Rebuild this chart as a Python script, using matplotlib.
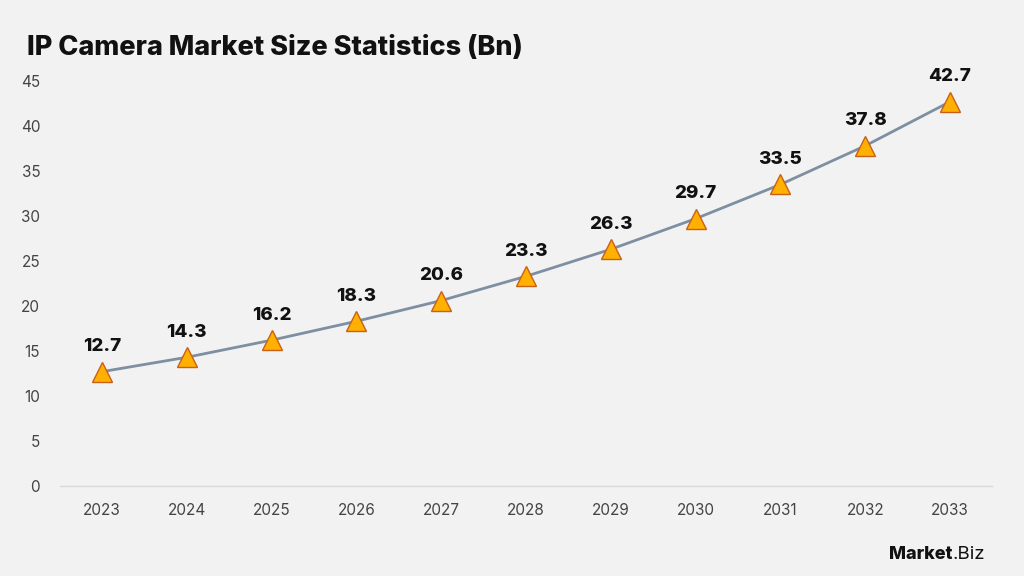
import matplotlib.pyplot as plt

years = ['2023', '2024', '2025', '2026', '2027', '2028', '2029', '2030', '2031', '2032', '2033']
values = [12.7, 14.3, 16.2, 18.3, 20.6, 23.3, 26.3, 29.7, 33.5, 37.8, 42.7]
yticks = [0, 5, 10, 15, 20, 25, 30, 35, 40, 45]

plt.rcParams['font.family'] = ['Inter', 'DejaVu Sans']
bg = '#f2f2f2'

fig = plt.figure(figsize=(10.24, 5.76), dpi=100, facecolor=bg)
ax = fig.add_axes([0.0582, 0.1563, 0.911, 0.7031], facecolor=bg)

x = list(range(len(years)))
ax.plot(x, values, color='#7d8fa1', linewidth=2, zorder=2)
ax.plot(x, values, linestyle='none', marker='^', markersize=15,
        markerfacecolor='#ffb000', markeredgecolor='#c8601a', markeredgewidth=1, zorder=3)
for xi, v in zip(x, values):
    ax.annotate(f'{v:.1f}', (xi, v), xytext=(0, 12), textcoords='offset points',
                ha='center', va='bottom', fontsize=13.5, fontweight='heavy', color='#111111')

ax.set_xlim(-0.5, len(years) - 0.5)
ax.set_ylim(0, 45)
ax.set_xticks(x)
ax.set_xticklabels(years)
ax.set_yticks(yticks)
ax.tick_params(axis='both', length=0, labelsize=11, colors='#444444')
ax.tick_params(axis='x', pad=12)
ax.tick_params(axis='y', pad=14)
for s in ['top', 'right', 'left']:
    ax.spines[s].set_visible(False)
ax.spines['bottom'].set_color('#d9d9d9')
ax.spines['bottom'].set_linewidth(1)

fig.text(0.026, 0.916, 'IP Camera Market Size Statistics (Bn)', fontsize=19.5,
         fontweight='heavy', color='#111111', va='center', ha='left')
fig.text(0.930, 0.037, 'Market', fontsize=13, fontweight='heavy', color='#111111', ha='right', va='center')
fig.text(0.930, 0.037, '.Biz', fontsize=13.5, color='#111111', ha='left', va='center')

fig.savefig('out.png', dpi=100, facecolor=bg)
